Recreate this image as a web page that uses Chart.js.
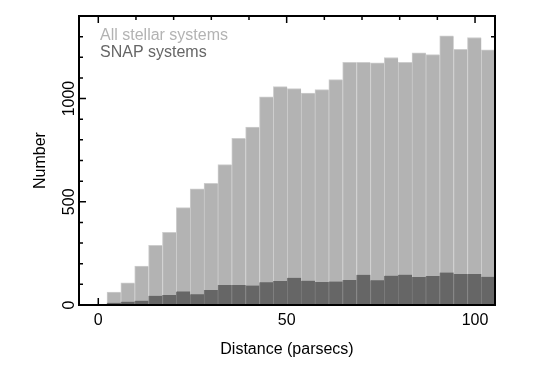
<!DOCTYPE html>
<html>
<head>
<meta charset="utf-8">
<title>Stellar systems by distance</title>
<script src="https://cdn.jsdelivr.net/npm/chart.js@4.4.0/dist/chart.umd.min.js"></script>
<style>
  html, body { margin: 0; padding: 0; background: #fff; }
</style>
</head>
<body>
<canvas id="distChart" width="557" height="365"></canvas>
<script>
/* Histogram of stellar systems vs distance, SNAP subset overlaid */

// bin centres in parsecs (bins are ~3.68 pc wide)
const BIN_CENTERS = [4.15, 7.83, 11.51, 15.19, 18.87, 22.55, 26.23, 29.91, 33.59, 37.27,
  40.95, 44.63, 48.31, 51.99, 55.67, 59.35, 63.03, 66.71, 70.39, 74.07,
  77.75, 81.43, 85.11, 88.79, 92.47, 96.15, 99.83, 103.51];
const ALL_SYSTEMS = [63, 107, 189, 289, 352, 472, 563, 590, 680, 807,
  862, 1008, 1058, 1048, 1027, 1043, 1092, 1176, 1176, 1173,
  1199, 1175, 1222, 1213, 1304, 1238, 1296, 1236];
const SNAP_SYSTEMS = [11, 16, 21, 45, 48, 66, 52, 73, 97, 97,
  94, 110, 116, 132, 118, 112, 114, 121, 146, 120,
  142, 147, 136, 141, 157, 150, 150, 137];
const X_TICKS = [0, 50, 100];
const Y_TICKS = [0, 500, 1000];
const SERIES_LABELS = ['All stellar systems', 'SNAP systems'];

const COLORS = {
  light: '#b3b3b3',
  lightEdge: '#cdcdcd',
  dark: '#666666',
  darkEdge: '#7c7c7c',
  axis: '#000000',
};
const FONT = { family: "'Liberation Sans', Arial, sans-serif", size: 16 };

// frame with inward ticks on all four sides, like the original plot
const frameTicks = {
  id: 'frameTicks',
  beforeDatasetsDraw(chart) {
    const { ctx, chartArea: a, scales: { x, y } } = chart;
    ctx.save();
    ctx.strokeStyle = COLORS.axis;
    ctx.lineWidth = 1.5;
    ctx.beginPath();
    for (let v = 0; v <= 100; v += 10) {
      const px = x.getPixelForValue(v);
      const len = v % 50 === 0 ? 7 : 4;
      ctx.moveTo(px, a.bottom); ctx.lineTo(px, a.bottom - len);
      ctx.moveTo(px, a.top); ctx.lineTo(px, a.top + len);
    }
    for (let v = 0; v <= 1400; v += 100) {
      const py = y.getPixelForValue(v);
      const len = v % 500 === 0 ? 7 : 4;
      ctx.moveTo(a.left, py); ctx.lineTo(a.left + len, py);
      ctx.moveTo(a.right, py); ctx.lineTo(a.right - len, py);
    }
    ctx.stroke();
    ctx.restore();
  },
  afterDatasetsDraw(chart) {
    const { ctx, chartArea: a } = chart;
    ctx.save();
    ctx.strokeStyle = COLORS.axis;
    ctx.lineWidth = 2;
    ctx.strokeRect(a.left, a.top, a.right - a.left, a.bottom - a.top);
    // legend as plain coloured text
    ctx.font = `${FONT.size}px ${FONT.family}`;
    ctx.textBaseline = 'alphabetic';
    ctx.textAlign = 'left';
    ctx.fillStyle = COLORS.light;
    ctx.fillText(SERIES_LABELS[0], 100, 40);
    ctx.fillStyle = COLORS.dark;
    ctx.fillText(SERIES_LABELS[1], 100, 56.5);
    ctx.restore();
  },
};

const toPoints = (vals) => vals.map((v, i) => ({ x: BIN_CENTERS[i], y: v }));

new Chart(document.getElementById('distChart'), {
  type: 'bar',
  data: {
    datasets: [
      {
        label: SERIES_LABELS[1],
        data: toPoints(SNAP_SYSTEMS),
        backgroundColor: COLORS.dark,
        borderColor: COLORS.darkEdge,
        borderWidth: { top: 0, left: 1, right: 0, bottom: 0 },
        borderSkipped: false,
        grouped: false,
        barPercentage: 1,
        categoryPercentage: 1,
        order: 0,
      },
      {
        label: SERIES_LABELS[0],
        data: toPoints(ALL_SYSTEMS),
        backgroundColor: COLORS.light,
        borderColor: COLORS.lightEdge,
        borderWidth: { top: 1, left: 1, right: 0, bottom: 0 },
        borderSkipped: false,
        grouped: false,
        barPercentage: 1,
        categoryPercentage: 1,
        order: 1,
      },
    ],
  },
  options: {
    responsive: false,
    animation: false,
    layout: { padding: { top: 16, right: 62, bottom: 0, left: 0 } },
    plugins: { legend: { display: false }, tooltip: { enabled: false } },
    scales: {
      x: {
        type: 'linear',
        offset: false,
        min: -5.12,
        max: 105.3,
        grid: { display: false, drawTicks: false, offset: false },
        border: { display: false },
        afterBuildTicks: (s) => { s.ticks = X_TICKS.map((v) => ({ value: v })); },
        afterFit: (s) => { s.height = 60; },
        ticks: { font: FONT, color: COLORS.axis, padding: 6, maxRotation: 0, callback: (v) => String(v) },
        title: {
          display: true,
          text: 'Distance (parsecs)',
          font: FONT,
          color: COLORS.axis,
          padding: { top: 0, bottom: 6 },
        },
      },
      y: {
        min: 0,
        max: 1400,
        grid: { display: false, drawTicks: false },
        border: { display: false },
        afterBuildTicks: (s) => { s.ticks = Y_TICKS.map((v) => ({ value: v })); },
        afterFit: (s) => { s.width = 79; },
        ticks: {
          font: FONT,
          color: COLORS.axis,
          minRotation: 90,
          maxRotation: 90,
          crossAlign: 'center',
          padding: -8,
          callback: (v) => String(v),
        },
        title: {
          display: true,
          text: 'Number',
          font: FONT,
          color: COLORS.axis,
          padding: { top: 31, bottom: 0 },
        },
      },
    },
  },
  plugins: [frameTicks],
});
</script>
</body>
</html>
